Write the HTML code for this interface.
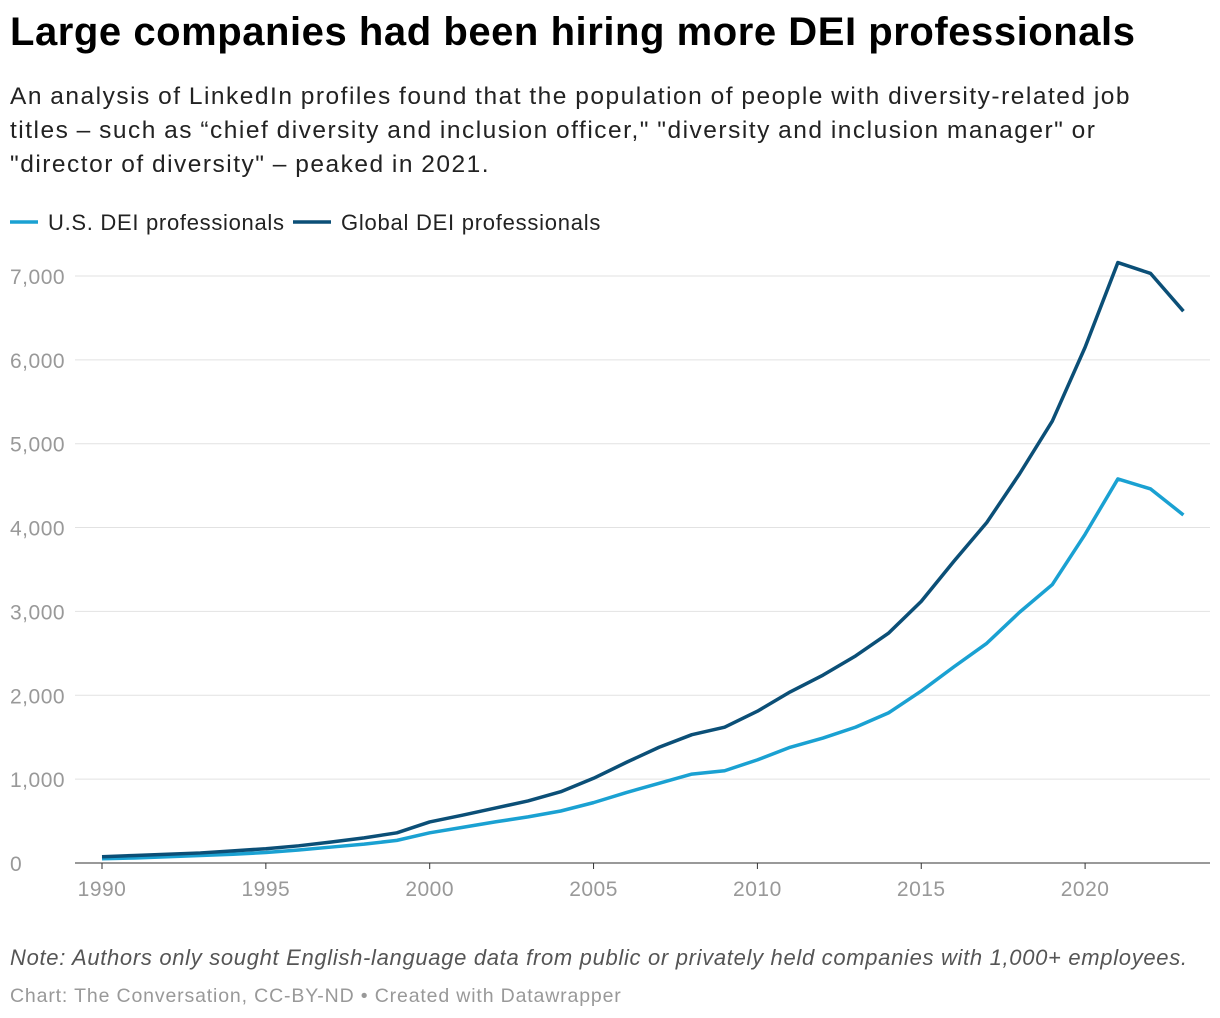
<!DOCTYPE html>
<html><head><meta charset="utf-8"><style>
body{margin:0;background:#fff;width:1220px;height:1018px;overflow:hidden;font-family:"Liberation Sans",Roboto,sans-serif}
.t{position:absolute;left:10px;white-space:nowrap}
</style></head><body>
<div class="t" style="top:10px;font-size:40px;font-weight:bold;color:#000;letter-spacing:0.55px">Large companies had been hiring more DEI professionals</div>
<div class="t" style="top:80px;font-size:24.5px;line-height:34px;color:#222;letter-spacing:1.5px;word-spacing:-1px">An analysis of LinkedIn profiles found that the population of people with diversity-related job<br>titles – such as “chief diversity and inclusion officer," "diversity and inclusion manager" or<br>"director of diversity" – peaked in 2021.</div>
<svg width="1220" height="1018" style="position:absolute;left:0;top:0" font-family="Liberation Sans, sans-serif">
<line x1="10" y1="222" x2="38" y2="222" stroke="#1aa1d2" stroke-width="3.5"/>
<text x="48" y="230" font-size="22" fill="#222" letter-spacing="0.7">U.S. DEI professionals</text>
<line x1="293" y1="222" x2="331" y2="222" stroke="#0b4f77" stroke-width="3.5"/>
<text x="341" y="230" font-size="22" fill="#222" letter-spacing="0.75">Global DEI professionals</text>
<g id="grid"></g>
<g id="lines"></g>
<text x="10" y="965" font-size="22" font-style="italic" fill="#555" letter-spacing="0.68">Note: Authors only sought English-language data from public or privately held companies with 1,000+ employees.</text>
<text x="10" y="1002" font-size="19.5" fill="#999" letter-spacing="0.85">Chart: The Conversation, CC-BY-ND • Created with Datawrapper</text>
</svg>
<script>
var g=document.getElementById('grid'),L=document.getElementById('lines'),s='';
function Y(v){return 863-v*0.08386}function X(y){return 102+(y-1990)*32.77}
for(var i=0;i<=7;i++){var y=Y(i*1000);
s+='<line x1="75" x2="1210" y1="'+y+'" y2="'+y+'" stroke="'+(i?'#e2e2e2':'#333')+'" stroke-width="1"/>';
s+='<text x="10" y="'+(y+8)+'" font-size="21" fill="#999" letter-spacing="0.5">'+(i?i+',000':'0')+'</text>';}
for(var yr=1990;yr<=2020;yr+=5){s+='<line x1="'+X(yr)+'" x2="'+X(yr)+'" y1="863" y2="869" stroke="#333"/><text x="'+X(yr)+'" y="896" font-size="21" fill="#999" text-anchor="middle" letter-spacing="0.5">'+yr+'</text>';}
g.innerHTML=s;
var G=[75,90,105,120,145,170,205,250,300,360,490,570,655,740,850,1010,1200,1380,1530,1620,1810,2040,2240,2470,2740,3120,3600,4060,4640,5270,6150,7160,7030,6580];
var U=[50,60,75,90,105,125,155,190,225,270,360,425,490,550,620,720,840,950,1060,1100,1230,1380,1490,1620,1790,2050,2340,2620,2990,3320,3920,4580,4460,4150];
function pl(d,c){return '<polyline fill="none" stroke="'+c+'" stroke-width="3.5" stroke-linejoin="round" points="'+d.map(function(v,i){return X(1990+i)+','+Y(v)}).join(' ')+'"/>'}
L.innerHTML=pl(U,'#1aa1d2')+pl(G,'#0b4f77');
</script>
</body></html>
